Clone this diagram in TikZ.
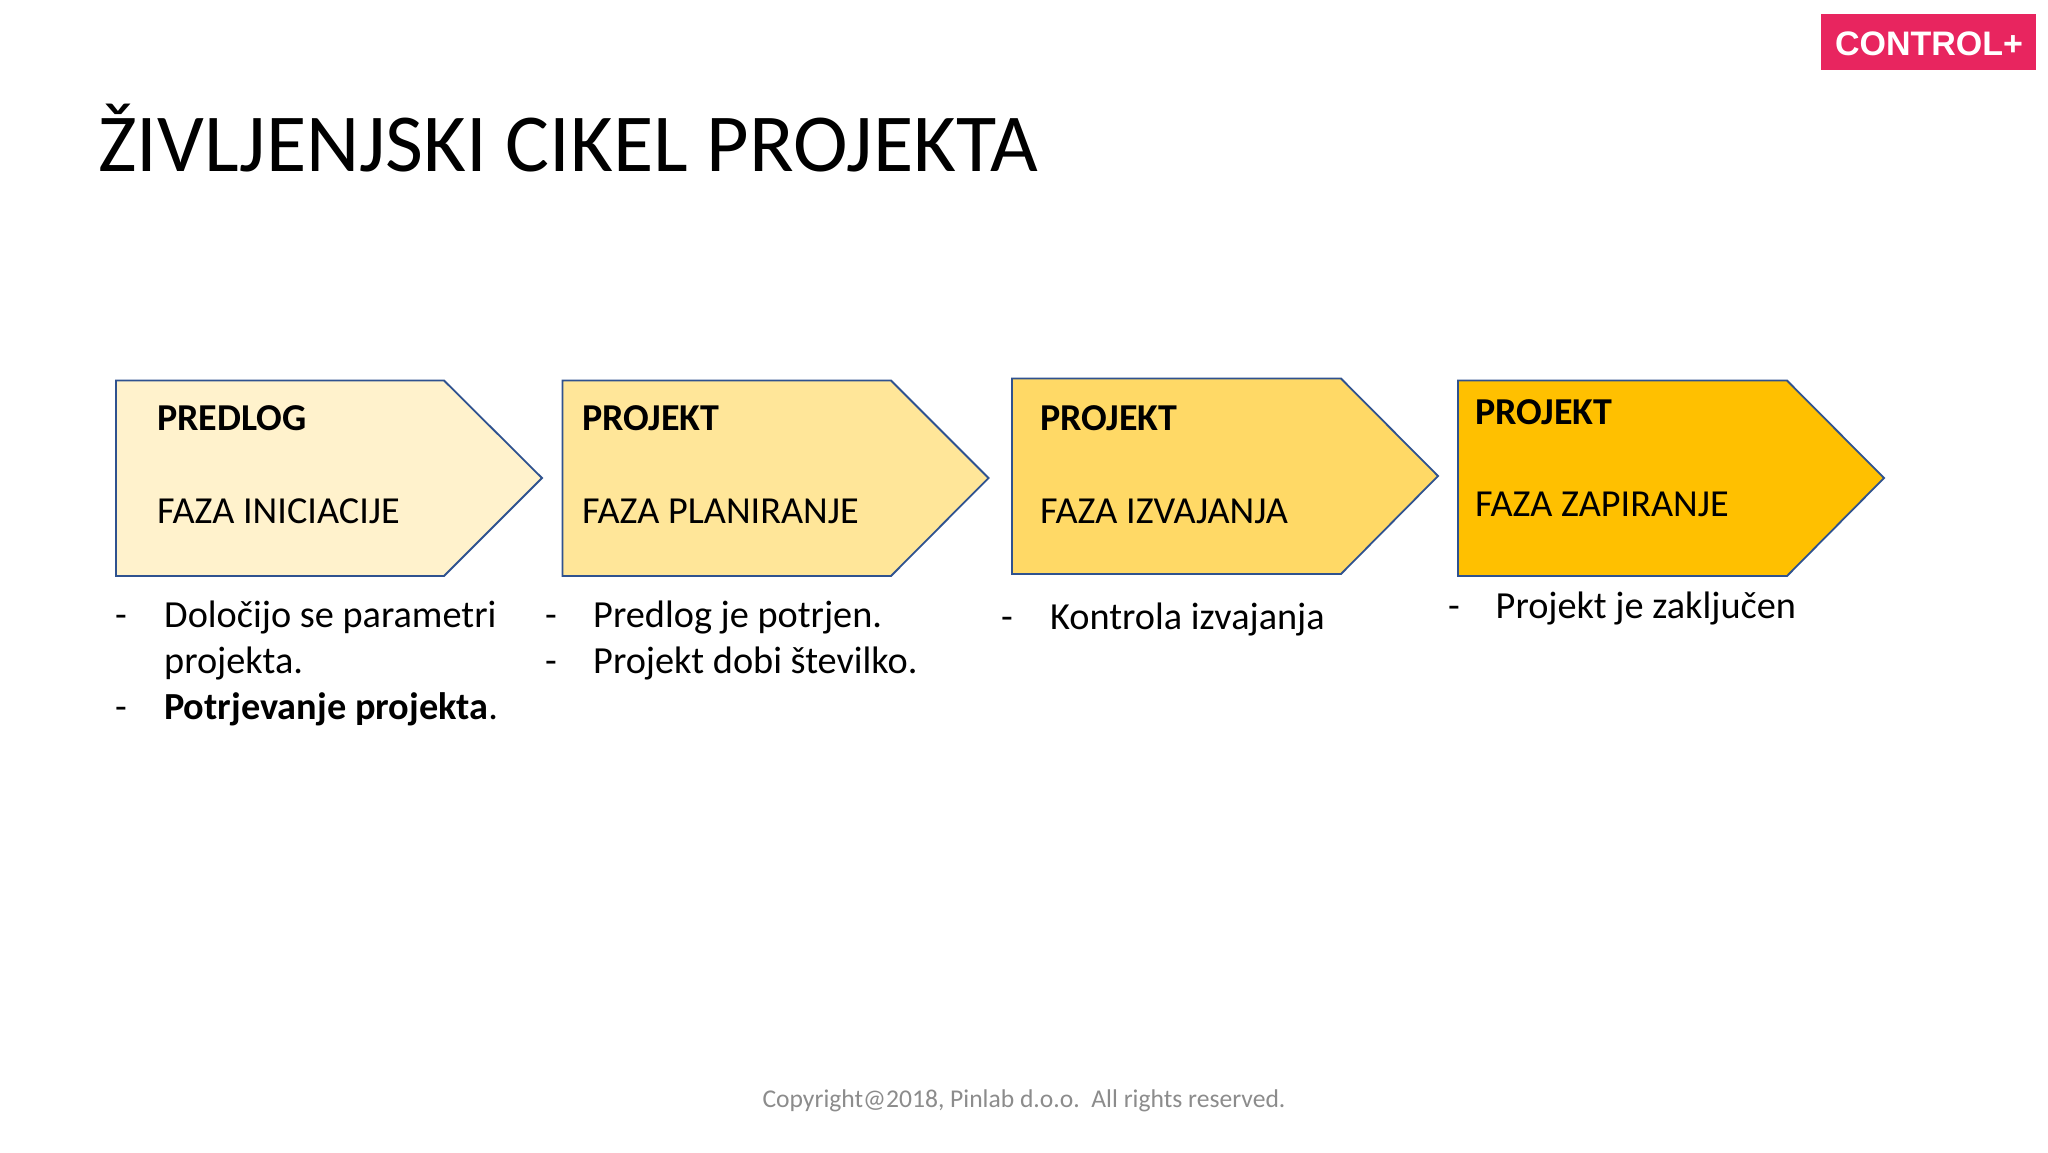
\documentclass[tikz,border=0pt]{standalone}
\usepackage{fontspec}
\setmainfont{Carlito}
\newfontfamily\logofont{Liberation Sans}
\definecolor{edgeblue}{HTML}{2F528F}
\definecolor{faza}{HTML}{FFF2CC}
\definecolor{fazb}{HTML}{FFE699}
\definecolor{fazc}{HTML}{FFD966}
\definecolor{fazd}{HTML}{FFC000}
\definecolor{logopink}{HTML}{E8255F}
\definecolor{copygray}{HTML}{8C8C8C}
\tikzset{
  x=1pt,y=-1pt,
  phase/.style={draw=edgeblue,line width=1.8pt,line join=miter},
  head/.style={anchor=base west,inner sep=0,font=\fontsize{38}{38}\selectfont\bfseries},
  sub/.style={anchor=base west,inner sep=0,font=\fontsize{38.2}{38}\selectfont},
  item/.style={anchor=base west,inner sep=0,font=\fontsize{38.3}{38}\selectfont},
}
\begin{document}
\begin{tikzpicture}
\useasboundingbox (0,0) rectangle (2048,1152);
\fill[white] (0,0) rectangle (2048,1152);
\fill[logopink] (1821,14) rectangle (2036,70);
\node[anchor=base,inner sep=0,text=white,font=\fontsize{34}{34}\selectfont\logofont\bfseries] (logo) at (1929,55) {CONTROL+};
\node[anchor=base west,inner sep=0,font=\fontsize{82.4}{82}\selectfont] (title) at (98,171) {ŽIVLJENJSKI CIKEL PROJEKTA};
\draw[phase,fill=faza] (116,380.5)--(444,380.5)--(542,478)--(444,576)--(116,576)--cycle;
\draw[phase,fill=fazb] (562.5,380.5)--(891,380.5)--(988.5,478)--(891,576)--(562.5,576)--cycle;
\draw[phase,fill=fazc] (1012,378.5)--(1341,378.5)--(1438,476)--(1341,574)--(1012,574)--cycle;
\draw[phase,fill=fazd] (1458,380.5)--(1787,380.5)--(1884,478)--(1787,576)--(1458,576)--cycle;
\node[head] (h1) at (157,430.5) {PREDLOG};
\node[sub] (s1) at (157,523) {FAZA INICIACIJE};
\node[head] (h2) at (582,430.5) {PROJEKT};
\node[sub] (s2) at (582,523) {FAZA PLANIRANJE};
\node[head] (h3) at (1040,430.5) {PROJEKT};
\node[sub] (s3) at (1040,523) {FAZA IZVAJANJA};
\node[head] (h4) at (1475,424) {PROJEKT};
\node[sub] (s4) at (1475,516) {FAZA ZAPIRANJE};
\node[item] (d1a) at (115,627) {-};
\node[item] (t1a) at (164,627) {Določijo se parametri};
\node[item] (t1b) at (164,673) {projekta.};
\node[item] (d1c) at (115,719) {-};
\node[item] (t1c) at (164,719) {\textbf{Potrjevanje projekta}.};
\node[item] (d2a) at (545,627) {-};
\node[item] (t2a) at (593,627) {Predlog je potrjen.};
\node[item] (d2b) at (545,673) {-};
\node[item] (t2b) at (593,673) {Projekt dobi številko.};
\node[item] (d3a) at (1001,629) {-};
\node[item] (t3a) at (1050,629) {Kontrola izvajanja};
\node[item] (d4a) at (1448,618.5) {-};
\node[item] (t4a) at (1495.5,618.5) {Projekt je zaključen};
\node[anchor=base,inner sep=0,text=copygray,font=\fontsize{25.6}{26}\selectfont] (copy) at (1024,1107) {Copyright@2018, Pinlab d.o.o.\ \ All rights reserved.};
\end{tikzpicture}
\end{document}
